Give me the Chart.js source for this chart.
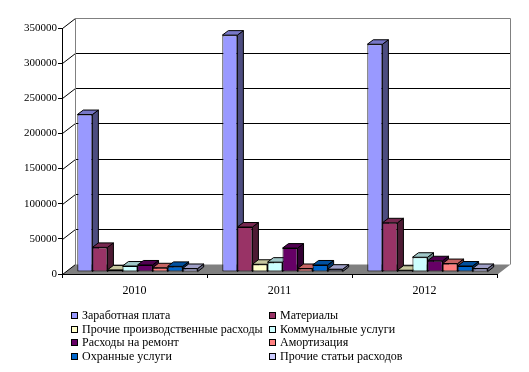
<!DOCTYPE html>
<html>
<head>
<meta charset="utf-8">
<script src="https://cdn.jsdelivr.net/npm/chart.js@4.4.1/dist/chart.umd.min.js"></script>
<style>
  body { margin: 0; background: #fff; }
  #wrap { position: relative; width: 529px; height: 372px; }
  #legend { position: absolute; left: 0; top: 0; width: 529px; height: 372px; pointer-events: none;
    font: 12px "Liberation Serif", "Times New Roman", serif; color: #000; }
  .it { position: absolute; white-space: nowrap; line-height: 14px; }
  .it i { position: absolute; left: -11px; top: 4px; width: 5px; height: 5px; border: 1px solid #000; }
</style>
</head>
<body>
<div id="wrap"><canvas id="c"></canvas><div id="legend"></div></div>
<script>
'use strict';
// Structure des charges 2010-2012 (histogramme 3D façon Excel)
const years = ['2010', '2011', '2012'];
const names = ['Заработная плата', 'Материалы', 'Прочие производственные расходы', 'Коммунальные услуги',
  'Расходы на ремонт', 'Амортизация', 'Охранные услуги', 'Прочие статьи расходов'];
const zarplata = [224000, 337000, 324000];
const materialy = [35000, 64000, 70000];
const prochieProizv = [3000, 11000, 2500];
const kommunal = [8500, 14000, 21000];
const remont = [10000, 34000, 16000];
const amort = [6000, 5000, 12000];
const ohrana = [8000, 10000, 8500];
const prochieStat = [5000, 4000, 5000];
const yTicks = [0, 50000, 100000, 150000, 200000, 250000, 300000, 350000];
const COLORS = ['#9999FF', '#993366', '#FFFFCC', '#CCFFFF', '#660066', '#FF8080', '#0066CC', '#CCCCFF'];
const series = [zarplata, materialy, prochieProizv, kommunal, remont, amort, ohrana, prochieStat];

const FONT = '"Liberation Serif", "Times New Roman", serif';
const WALL = { dx: 13, dy: -10 }, DEPTH = { dx: 6, dy: -4.5 }, SHIFT = { dx: 3, dy: -2 };
const shade = (hex, k) => {
  const n = parseInt(hex.slice(1), 16);
  const c = [n >> 16, (n >> 8) & 255, n & 255].map(v => Math.round(v * k));
  return `rgb(${c.join(',')})`;
};
const poly = (ctx, pts, fill, stroke) => {
  ctx.beginPath(); ctx.moveTo(pts[0][0], pts[0][1]);
  for (let i = 1; i < pts.length; i++) ctx.lineTo(pts[i][0], pts[i][1]);
  ctx.closePath();
  if (fill) { ctx.fillStyle = fill; ctx.fill(); }
  if (stroke) { ctx.strokeStyle = stroke; ctx.lineWidth = 1; ctx.stroke(); }
};

const box3d = {
  id: 'box3d',
  beforeDraw(chart) {
    const { ctx, chartArea: a, scales: { y } } = chart;
    const L = Math.round(a.left) + 0.5, R = Math.round(a.right) + 0.5, B = Math.round(a.bottom) + 0.5;
    ctx.save();
    // sol gris
    poly(ctx, [[L, B], [R, B], [R + WALL.dx, B + WALL.dy], [L + WALL.dx, B + WALL.dy]], '#808080');
    // quadrillage du fond + diagonales du mur gauche
    yTicks.forEach(v => {
      const py = Math.round(y.getPixelForValue(v)) + 0.5;
      ctx.strokeStyle = '#000'; ctx.lineWidth = 1;
      ctx.beginPath(); ctx.moveTo(L, py); ctx.lineTo(L + WALL.dx, py + WALL.dy); ctx.stroke();
      if (v > 0 && v < yTicks[yTicks.length - 1]) {
        ctx.beginPath(); ctx.moveTo(L + WALL.dx, py + WALL.dy); ctx.lineTo(R + WALL.dx, py + WALL.dy); ctx.stroke();
      }
    });
    // bords du mur du fond
    const T = Math.round(y.getPixelForValue(yTicks[yTicks.length - 1])) + 0.5;
    ctx.strokeStyle = '#808080';
    ctx.beginPath();
    ctx.moveTo(L + WALL.dx, B + WALL.dy); ctx.lineTo(L + WALL.dx, T + WALL.dy);
    ctx.lineTo(R + WALL.dx, T + WALL.dy); ctx.lineTo(R + WALL.dx, B + WALL.dy);
    ctx.stroke();
    ctx.restore();
  },
  beforeDatasetsDraw(chart) {
    const ctx = chart.ctx;
    ctx.save();
    ctx.translate(SHIFT.dx, SHIFT.dy);
    chart.data.datasets.forEach((ds, i) => {
      chart.getDatasetMeta(i).data.forEach(bar => {
        const { x, y, base, width } = bar.getProps(['x', 'y', 'base', 'width'], true);
        const l = x - width / 2, r = x + width / 2;
        poly(ctx, [[r, y], [r + DEPTH.dx, y + DEPTH.dy], [r + DEPTH.dx, base + DEPTH.dy], [r, base]], shade(COLORS[i], 0.5), '#000');
        poly(ctx, [[l, y], [r, y], [r + DEPTH.dx, y + DEPTH.dy], [l + DEPTH.dx, y + DEPTH.dy]], shade(COLORS[i], 0.78), '#000');
      });
    });
  },
  afterDatasetsDraw(chart) { chart.ctx.restore(); },
};

new Chart(document.getElementById('c'), {
  type: 'bar',
  data: {
    labels: years,
    datasets: series.map((d, i) => ({
      label: names[i], data: d, backgroundColor: COLORS[i],
      borderColor: '#000', borderWidth: 1, borderSkipped: false,
      barPercentage: 1, categoryPercentage: 0.83,
    })),
  },
  options: {
    responsive: true, maintainAspectRatio: false, animation: false,
    layout: { padding: { top: 28, right: 32, bottom: 74, left: 0 } },
    plugins: { legend: { display: false }, tooltip: { enabled: false } },
    scales: {
      x: {
        grid: { drawOnChartArea: false, tickLength: 4, color: '#000' },
        border: { color: '#000' },
        ticks: { color: '#000', font: { family: FONT, size: 12 }, padding: 6 },
        afterFit(s) { s.height = 24; },
      },
      y: {
        min: 0, max: yTicks[yTicks.length - 1],
        afterBuildTicks(s) { s.ticks = yTicks.map(v => ({ value: v })); },
        grid: { drawOnChartArea: false, tickLength: 4, color: '#000' },
        border: { color: '#000' },
        ticks: { color: '#000', font: { family: FONT, size: 11 }, padding: 1, callback: v => String(v) },
        afterFit(s) { s.width = 62; },
      },
    },
  },
  plugins: [box3d],
});

// légende HTML sur deux colonnes
const leg = document.getElementById('legend');
names.forEach((n, i) => {
  const el = document.createElement('div');
  el.className = 'it';
  el.style.left = (i % 2 ? 280 : 82) + 'px';
  el.style.top = (308 + Math.floor(i / 2) * 13.6) + 'px';
  el.innerHTML = `<i style="background:${COLORS[i]}"></i>${n}`;
  leg.appendChild(el);
});
</script>
</body>
</html>
